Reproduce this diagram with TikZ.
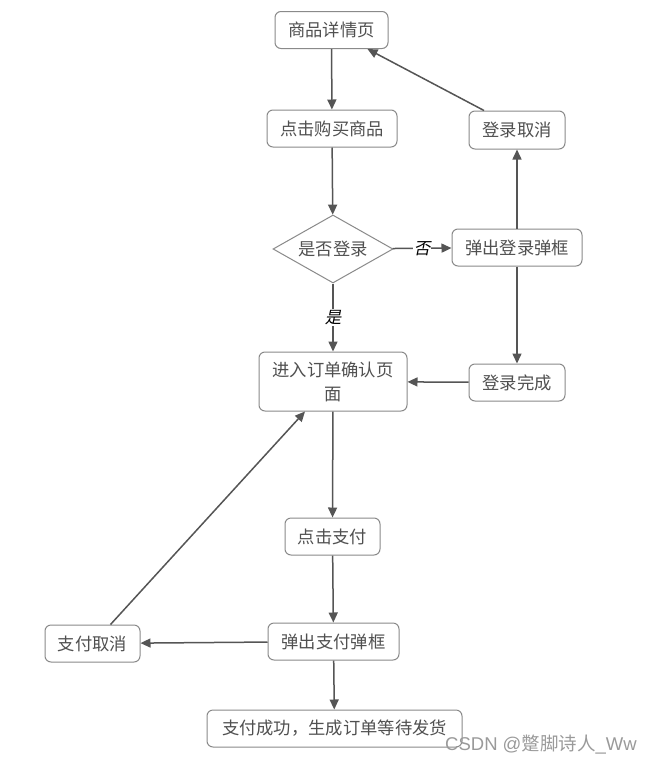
\documentclass[tikz,border=0pt]{standalone}
\usepackage{fontspec}
\setmainfont{Noto Sans CJK SC}
\newfontfamily\cjkit[FakeSlant=0.2]{Noto Sans CJK SC}
\newfontfamily\cjkwm{Noto Sans CJK SC}
\newfontfamily\wmfont{Liberation Sans}
\usetikzlibrary{shapes.geometric,arrows.meta}
\definecolor{boxline}{HTML}{8A8A8A}
\definecolor{arrowc}{HTML}{555555}
\definecolor{txt}{HTML}{505050}
\definecolor{wmc}{HTML}{9A9A9A}
\tikzset{
  box/.style={draw=boxline, line width=1pt, rounded corners=6pt, text=txt, inner sep=0pt, font=\fontsize{17.3}{22}\selectfont, align=center, minimum height=37pt},
  decision/.style={draw=boxline, line width=1pt, diamond, text=txt, inner sep=0pt, font=\fontsize{17.3}{22}\selectfont, minimum width=120pt, minimum height=68pt, aspect=1.76},
  arr/.style={draw=arrowc, line width=1.5pt, -{Triangle[length=10pt,width=9pt]}},
  lbl/.style={fill=white, text=black, inner sep=1pt, font=\cjkit\fontsize{16.5}{20}\selectfont}
}
\begin{document}
\begin{tikzpicture}[x=1pt,y=-1pt]
\useasboundingbox (0,0) rectangle (650,764);
\fill[white] (0,0) rectangle (650,764);
\node[box, minimum width=113pt] (detail) at (331.5,30) {商品详情页};
\node[box, minimum width=130pt] (buy) at (332,128.5) {点击购买商品};
\node[box, minimum width=96pt, minimum height=38pt] (lcancel) at (517,130) {登录取消};
\node[decision] (dec) at (333,249) {是否登录};
\node[box, minimum width=130pt] (popup) at (517,247.5) {弹出登录弹框};
\node[box, minimum width=148pt, minimum height=59pt, font=\fontsize{17.3}{24}\selectfont] (confirm) at (333,381.5) {进入订单确认页\\面};
\node[box, minimum width=96pt] (ldone) at (517,382.5) {登录完成};
\node[box, minimum width=95pt] (pay) at (332.5,536.5) {点击支付};
\node[box, minimum width=131pt] (ppopup) at (333.5,641.5) {弹出支付弹框};
\node[box, minimum width=95pt] (pcancel) at (92.5,643.5) {支付取消};
\node[box, minimum width=255pt] (success) at (334.5,728.5) {支付成功，生成订单等待发货};

\draw[arr] (detail) -- (buy);
\draw[arr] (buy) -- (dec);
\draw[arr] (dec) -- node[lbl] {否} (popup);
\draw[arr] (dec) -- node[lbl] {是} (confirm);
\draw[arr] (popup) -- (lcancel);
\draw[arr] ([xshift=-33pt]lcancel.north) -- ([xshift=36pt]detail.south);
\draw[arr] (popup) -- (ldone);
\draw[arr] (ldone) -- (confirm);
\draw[arr] (confirm) -- (pay);
\draw[arr] (pay) -- (ppopup);
\draw[arr] (ppopup) -- (pcancel);
\draw[arr] ([xshift=18pt]pcancel.north) -- ([xshift=-28pt]confirm.south);
\draw[arr] (ppopup) -- (success);

\node[text=wmc, anchor=west, inner sep=0pt, font=\wmfont\fontsize{18.5}{20}\selectfont] (wm) at (445,745) {CSDN @{\cjkwm 蹩脚诗人}\_Ww};
\end{tikzpicture}
\end{document}
